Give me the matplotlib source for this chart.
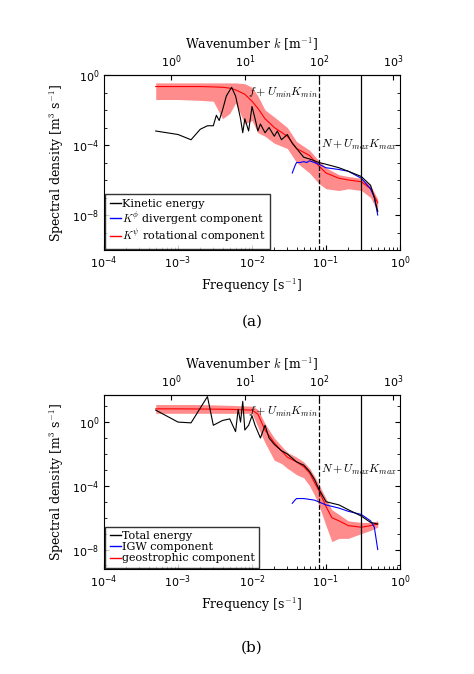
import numpy as np
import matplotlib
matplotlib.use("Agg")
import matplotlib.pyplot as plt
from matplotlib.ticker import FixedLocator, NullLocator, LogLocator, NullFormatter

plt.rcParams['mathtext.fontset'] = 'cm'
plt.rcParams['font.family'] = ['DejaVu Sans']
SERIF = 'DejaVu Serif'

# ---- panel (a) ----
a_ke_f = [5e-4, 1e-3, 1.5e-3, 2e-3, 2.5e-3, 3e-3, 3.3e-3, 3.6e-3, 4e-3, 4.5e-3, 5.3e-3, 6e-3,
          7e-3, 7.5e-3, 8e-3, 9e-3, 1e-2, 1.1e-2, 1.2e-2, 1.3e-2, 1.5e-2, 1.7e-2, 2e-2, 2.2e-2,
          2.5e-2, 3e-2, 3.5e-2, 4e-2, 5e-2, 6e-2, 8e-2, 0.1, 0.15, 0.2, 0.3, 0.4, 0.45, 0.5]
a_ke_lg = [-3.2, -3.4, -3.7, -3.1, -2.9, -2.9, -2.3, -2.6, -2.0, -1.2, -0.7, -1.2,
           -2.5, -3.3, -2.5, -3.2, -1.8, -2.5, -3.2, -2.8, -3.3, -3.0, -3.5, -3.2,
           -3.7, -3.4, -3.9, -4.2, -4.7, -4.8, -5.0, -5.1, -5.3, -5.5, -5.8, -6.3, -7.0, -7.8]

a_rot_f = [5e-4, 1e-3, 2e-3, 3e-3, 4e-3, 5e-3, 6e-3, 8e-3, 1e-2, 1.2e-2, 1.5e-2, 2e-2, 3e-2,
           4e-2, 6e-2, 8e-2, 0.1, 0.15, 0.2, 0.3, 0.4, 0.5]
a_rot_lg = [-0.66, -0.66, -0.66, -0.68, -0.7, -0.75, -0.85, -1.1, -1.5, -1.9, -2.5, -3.0, -3.5,
            -4.2, -4.6, -5.2, -5.6, -5.9, -6.0, -6.1, -6.5, -7.3]
a_rot_lo = [-1.4, -1.4, -1.45, -1.5, -2.5, -2.2, -1.6, -2.8, -2.6, -3.3, -3.5, -3.9, -4.2,
            -5.0, -5.6, -6.2, -6.5, -6.6, -6.5, -6.6, -7.0, -7.8]
a_rot_hi = [-0.45, -0.45, -0.45, -0.45, -0.45, -0.45, -0.45, -0.5, -0.7, -1.2, -2.0, -2.4, -3.0,
            -3.8, -4.3, -4.9, -5.3, -5.7, -5.8, -5.9, -6.3, -7.1]

a_div_f = [0.035, 0.038, 0.04, 0.045, 0.05, 0.055, 0.06, 0.08, 0.1, 0.15, 0.2, 0.3, 0.4, 0.45, 0.5]
a_div_lg = [-5.6, -5.2, -5.0, -5.0, -4.95, -5.0, -4.9, -5.1, -5.3, -5.4, -5.5, -5.9, -6.5, -7.0, -8.0]

# ---- panel (b) ----
b_te_f = [5e-4, 1e-3, 1.5e-3, 2.5e-3, 3e-3, 4e-3, 5e-3, 6e-3, 6.5e-3, 7e-3, 7.5e-3, 8e-3, 9e-3,
          1e-2, 1.1e-2, 1.3e-2, 1.5e-2, 1.7e-2, 2e-2, 2.5e-2, 3e-2, 4e-2, 5e-2, 6e-2, 7e-2, 8e-2,
          0.1, 0.15, 0.2, 0.3, 0.4, 0.5]
b_te_lg = [0.75, 0.0, -0.05, 1.6, -0.2, 0.1, 0.2, -0.6, 0.8, 0.0, 1.3, -0.5, -0.2,
           0.4, -0.2, -1.0, -0.2, -1.0, -1.4, -1.8, -2.0, -2.5, -2.7, -3.1, -3.6, -4.2,
           -5.0, -5.2, -5.5, -5.9, -6.3, -6.4]

b_geo_f = [5e-4, 1e-3, 2e-3, 5e-3, 1e-2, 1.2e-2, 1.5e-2, 2e-2, 2.5e-2, 3e-2, 4e-2, 5e-2, 6e-2,
           7e-2, 8e-2, 0.1, 0.12, 0.15, 0.2, 0.3, 0.4, 0.5]
b_geo_lg = [0.83, 0.83, 0.82, 0.8, 0.75, 0.5, -0.5, -1.3, -1.8, -2.2, -2.5, -2.8, -3.2,
            -3.8, -4.3, -5.3, -6.0, -6.2, -6.5, -6.6, -6.5, -6.4]
b_geo_lo = [0.55, 0.55, 0.55, 0.55, 0.55, -0.3, -1.3, -2.4, -2.6, -2.9, -3.3, -3.5, -4.0,
            -4.6, -5.2, -6.5, -7.5, -7.3, -7.3, -7.0, -6.8, -6.6]
b_geo_hi = [1.1, 1.1, 1.1, 1.05, 1.0, 0.8, -0.1, -1.0, -1.5, -1.9, -2.2, -2.5, -2.9,
            -3.4, -3.9, -4.8, -5.5, -5.8, -6.2, -6.3, -6.3, -6.2]

b_igw_f = [0.035, 0.038, 0.04, 0.05, 0.07, 0.1, 0.15, 0.2, 0.3, 0.4, 0.45, 0.5]
b_igw_lg = [-5.1, -4.9, -4.8, -4.8, -4.9, -5.2, -5.4, -5.6, -5.8, -6.2, -6.6, -8.0]


def panel(ax, ylim, ke, rot, div, labels, ntext_y):
    p = lambda v: 10.0 ** np.array(v)
    f, lo, mid, hi = rot
    ax.fill_between(f, p(lo), p(hi), color='#ff6666', alpha=0.75, lw=0)
    ax.plot(f, p(mid), color='red', lw=0.8)
    ax.plot(div[0], p(div[1]), color='blue', lw=0.8)
    ax.plot(ke[0], p(ke[1]), color='black', lw=0.8)
    ax.set_xscale('log')
    ax.set_yscale('log')
    ax.set_xlim(1e-4, 1)
    ax.set_ylim(*ylim)
    ax.yaxis.set_major_locator(FixedLocator([1e-8, 1e-4, 1e0]))
    ax.yaxis.set_minor_locator(LogLocator(base=10, subs=(1.0,), numticks=30))
    ax.yaxis.set_minor_formatter(NullFormatter())
    ax.axvline(0.08, color='k', ls='--', lw=0.9)
    ax.axvline(0.3, color='k', lw=0.9)
    ax.set_xlabel(r'Frequency [s$^{-1}$]', family=SERIF, fontsize=9)
    ax.set_ylabel(r'Spectral density [m$^3$ s$^{-1}$]', family=SERIF, fontsize=9)
    ax.tick_params(which='both', direction='in', top=False, right=True, labelsize=8)
    ax.text(0.078, ylim[1] / 4, r'$f+U_{min}K_{min}$', fontsize=8.5, va='top', ha='right')
    ax.text(0.086, ntext_y, r'$N+U_{max}K_{max}$', fontsize=8.5, va='center')
    h = [plt.Line2D([], [], color=c, lw=1) for c in ('black', 'blue', 'red')]
    ax.legend(h, labels, loc='lower left', borderaxespad=0.1, handlelength=1.0,
              handletextpad=0.1, labelspacing=0.1, fancybox=False, edgecolor='k',
              prop={'family': SERIF, 'size': 8})
    sec = ax.secondary_xaxis('top', functions=(lambda x: x * 1250, lambda x: x / 1250))
    sec.xaxis.set_major_locator(FixedLocator([1, 10, 100, 1000]))
    sec.xaxis.set_minor_locator(NullLocator())
    sec.tick_params(labelsize=8, direction='in')
    sec.set_xlabel(r'Wavenumber $k$ [m$^{-1}$]', family=SERIF, fontsize=9)


fig = plt.figure(figsize=(4.74, 6.74), dpi=100)
ax1 = fig.add_axes([104 / 474, 1 - 250 / 674, 296 / 474, 175 / 674])
ax2 = fig.add_axes([104 / 474, 1 - 569 / 674, 296 / 474, 174 / 674])

panel(ax1, (1e-10, 1), (a_ke_f, a_ke_lg), (a_rot_f, a_rot_lo, a_rot_lg, a_rot_hi), (a_div_f, a_div_lg),
      ['Kinetic energy', r'$K^{\phi}$ divergent component', r'$K^{\psi}$ rotational component'], 1e-4)
panel(ax2, (6e-10, 50), (b_te_f, b_te_lg), (b_geo_f, b_geo_lo, b_geo_lg, b_geo_hi), (b_igw_f, b_igw_lg),
      ['Total energy', 'IGW component', 'geostrophic component'], 1e-3)

fig.text(252 / 474, 1 - 322 / 674, '(a)', family=SERIF, fontsize=11, ha='center', va='center')
fig.text(252 / 474, 1 - 648 / 674, '(b)', family=SERIF, fontsize=11, ha='center', va='center')
fig.savefig('out.png', dpi=100)
